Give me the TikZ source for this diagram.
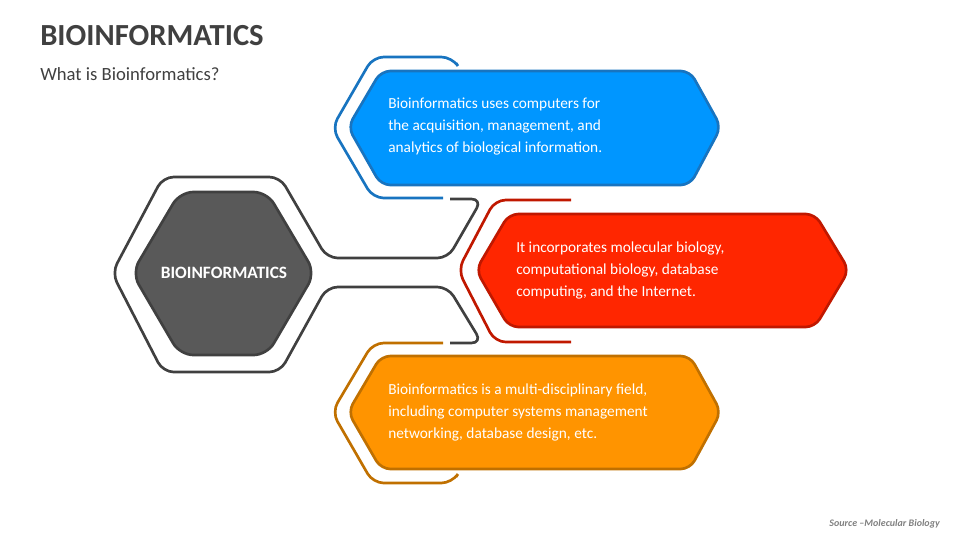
\documentclass[tikz,border=0pt]{standalone}
\usepackage{fontspec}
\setmainfont{Carlito}
\begin{document}
\begin{tikzpicture}[x=0.75pt,y=-0.75pt,
  outl/.style={line width=2pt,rounded corners=8pt},
  boxs/.style={line width=2pt,rounded corners=7pt},
  txt/.style={anchor=west,text=white,font=\fontsize{11.5}{16.5}\selectfont,align=left,inner sep=0pt}]
\definecolor{dk}{HTML}{404040}
\definecolor{hexf}{HTML}{595959}
\definecolor{bluef}{HTML}{0096FF}
\definecolor{blued}{HTML}{1874C0}
\definecolor{redf}{HTML}{FF2600}
\definecolor{redd}{HTML}{C01800}
\definecolor{orf}{HTML}{FF9400}
\definecolor{ord}{HTML}{C07000}
\useasboundingbox (0,0) rectangle (960,540);
% title
\node[anchor=base west,inner sep=0pt,text=dk,font=\fontsize{23}{26}\bfseries\selectfont] (title) at (40,45) {BIOINFORMATICS};
\node[anchor=base west,inner sep=0pt,text=dk,font=\fontsize{14}{16}\selectfont] (sub) at (40,80) {What is Bioinformatics?};
\node[anchor=base east,inner sep=0pt,text=gray,font=\fontsize{7.5}{9}\bfseries\itshape\selectfont] (src) at (940,526) {Source --Molecular Biology};
% outer dark outline with connectors
\draw[dk,outl] (450,199) -- (482,199) -- (448,258) -- (327,258) -- (280,177) -- (163,177) -- (112,273) -- (163,372) -- (280,372) -- (327,287) -- (448,287) -- (482,343) -- (450,343);
% inner hexagon
\draw[dk,fill=hexf,boxs,rounded corners=10pt] (132,273) -- (180,192) -- (267,192) -- (315,273) -- (267,355) -- (180,355) -- cycle;
\node[text=white,font=\fontsize{13}{15}\bfseries\selectfont] (hub) at (224,273) {BIOINFORMATICS};
% blue
\draw[blued,outl] (443,198) -- (373,198) -- (332,128) -- (373,57) -- (452,57) -- (456,63);
\draw[blued,fill=bluef,boxs] (348,127) -- (381,71) -- (690,71) -- (721,127) -- (690,185) -- (381,185) -- cycle;
\node[txt] (t1) at (388,127) {Bioinformatics uses computers for\\the acquisition, management, and\\analytics of biological information.};
% red
\draw[redd,outl] (571,200) -- (495,200) -- (458,270) -- (495,342) -- (571,342);
\draw[redd,fill=redf,boxs] (476,270) -- (509,214) -- (815,214) -- (849,270) -- (815,327) -- (509,327) -- cycle;
\node[txt] (t2) at (516,270) {It incorporates molecular biology,\\computational biology, database\\computing, and the Internet.};
% orange
\draw[ord,outl] (443,343) -- (373,343) -- (332,412) -- (373,483) -- (452,483) -- (456,477);
\draw[ord,fill=orf,boxs] (348,412) -- (381,356) -- (690,356) -- (721,412) -- (690,469) -- (381,469) -- cycle;
\node[txt] (t3) at (388,412) {Bioinformatics is a multi-disciplinary field,\\including computer systems management\\networking, database design, etc.};
\end{tikzpicture}
\end{document}
